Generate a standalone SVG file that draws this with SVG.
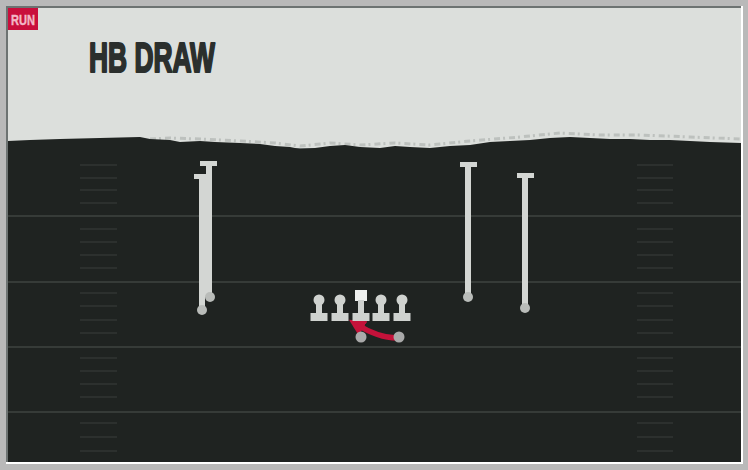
<svg xmlns="http://www.w3.org/2000/svg" width="748" height="470" viewBox="0 0 748 470">
  <defs>
    <style>
      .yard { stroke: #363b38; stroke-width: 2; }
      .hash { stroke: #3a3f3c; stroke-width: 1.2; }
      .route { stroke: #d3d6d3; stroke-width: 6; fill: none; }
      .bar { fill: #d3d6d3; }
      .dot { fill: #b9bcb9; }
      .ol { fill: #cfd2cf; }
      .back { fill: #a9a9a9; }
      .run { stroke: #c4123a; stroke-width: 5.5; fill: none; stroke-linecap: round; }
    </style>
    <marker id="redhead" viewBox="0 0 10 10" refX="5" refY="5" markerWidth="3" markerHeight="3" orient="auto">
      <path d="M0,0 L10,5 L0,10 z" fill="#c4123a"/>
    </marker>
    <g id="lineman">
      <circle cx="0" cy="0" r="5.5" class="ol"/>
      <rect x="-3" y="0" width="6" height="14" class="ol"/>
      <rect x="-8.5" y="13" width="17" height="8" class="ol"/>
    </g>
  </defs>

  <!-- frame -->
  <rect x="0" y="0" width="748" height="470" fill="#b9b9b9"/>
  <rect x="6" y="6" width="737" height="458" fill="#ffffff"/>
  <rect x="6" y="6" width="735" height="456" fill="#6d7372"/>

  <!-- paper -->
  <rect x="8" y="8" width="733" height="140" fill="#dcdfdc"/>
  <!-- field -->
  <path d="M150,139 L170,138 L200,139 L240,141 L275,143 L300,146 L330,143 L360,145 L395,143 L430,145 L470,141 L520,137 L560,133 L600,135 L640,135 L690,137 L741,139" stroke="#a9adaa" stroke-width="3" fill="none" opacity="0.6" stroke-dasharray="6 3 2 4"/>
  <path d="M8,141 L30,140 L60,139 L100,138 L140,137 L150,139 L170,140 L180,142 L200,141 L215,142 L240,143 L260,144 L275,146 L290,147 L300,149 L315,148 L330,146 L345,145 L360,147 L380,148 L395,146 L410,147 L430,148 L450,146 L470,145 L490,142 L510,141 L530,140 L550,138 L570,137 L590,138 L610,139 L630,139 L650,140 L670,140 L690,141 L710,142 L741,143 L741,462 L8,462 Z" fill="#1f2321"/>

  <!-- yard lines -->
  <g>
    <line class="yard" x1="8" y1="216" x2="741" y2="216"/>
    <line class="yard" x1="8" y1="282" x2="741" y2="282"/>
    <line class="yard" x1="8" y1="347" x2="741" y2="347"/>
    <line class="yard" x1="8" y1="412" x2="741" y2="412"/>
  </g>
  <!-- hash marks -->
  <g class="hash">
    <path d="M80,165H117M80,178H117M80,190H117M80,203H117M80,229H117M80,242H117M80,255H117M80,268H117M80,293H117M80,306H117M80,320H117M80,333H117M80,358H117M80,371H117M80,384H117M80,397H117M80,423H117M80,437H117M80,451H117"/>
    <path d="M637,165H673M637,178H673M637,190H673M637,203H673M637,229H673M637,242H673M637,255H673M637,268H673M637,293H673M637,306H673M637,320H673M637,333H673M637,358H673M637,371H673M637,384H673M637,397H673M637,423H673M637,437H673M637,451H673"/>
  </g>

  <!-- RUN tag -->
  <g id="run-tag">
    <rect x="8" y="8" width="30" height="22" fill="#c90f3c"/>
    <text x="23" y="24.5" text-anchor="middle" font-family="'Liberation Sans', Arial, sans-serif" font-weight="bold" font-size="14" textLength="24" lengthAdjust="spacingAndGlyphs" fill="#f2b8c6" stroke="#f2b8c6" stroke-width="0.4">RUN</text>
  </g>

  <!-- title -->
  <g id="title">
    <text x="89" y="72" font-family="'Liberation Sans', Arial, sans-serif" font-weight="bold" font-size="43" textLength="126" lengthAdjust="spacingAndGlyphs" fill="#2b2f2d" stroke="#2b2f2d" stroke-width="2.2" stroke-linejoin="round">HB DRAW</text>
  </g>

  <!-- connectors: receiver routes and run path -->
  <g id="connectors">
    <line class="route" x1="209" y1="297" x2="209" y2="165"/>
    <rect class="bar" x="200" y="161" width="17" height="5"/>
    <line class="route" x1="202" y1="310" x2="202" y2="178"/>
    <rect class="bar" x="194" y="174" width="13" height="5"/>
    <rect class="bar" x="202" y="178" width="7" height="119"/>
    <line class="route" x1="468" y1="297" x2="468" y2="166"/>
    <rect class="bar" x="460" y="162" width="17" height="5"/>
    <line class="route" x1="525" y1="308" x2="525" y2="177"/>
    <rect class="bar" x="517" y="173" width="17" height="5"/>
    <path class="run" d="M397,338 C385,338 372,334 356,324" marker-end="url(#redhead)"/>
  </g>

  <!-- receivers -->
  <g id="wr1"><circle cx="210" cy="297" r="5" class="dot"/></g>
  <g id="wr2"><circle cx="202" cy="310" r="5" class="dot"/></g>
  <g id="wr3"><circle cx="468" cy="297" r="5" class="dot"/></g>
  <g id="wr4"><circle cx="525" cy="308" r="5" class="dot"/></g>

  <!-- offensive line -->
  <g id="lt"><use href="#lineman" x="319" y="300"/></g>
  <g id="lg"><use href="#lineman" x="340" y="300"/></g>
  <g id="c">
    <rect x="355" y="290" width="12" height="11" fill="#eef0ee"/>
    <rect x="358" y="300" width="6" height="14" class="ol"/>
    <rect x="352.5" y="313" width="17" height="8" class="ol"/>
  </g>
  <g id="rg"><use href="#lineman" x="381" y="300"/></g>
  <g id="rt"><use href="#lineman" x="402" y="300"/></g>

  <!-- backs -->
  <g id="qb"><circle cx="361" cy="337" r="5.5" class="back"/></g>
  <g id="hb"><circle cx="399" cy="337" r="5.5" class="back"/></g>
</svg>
